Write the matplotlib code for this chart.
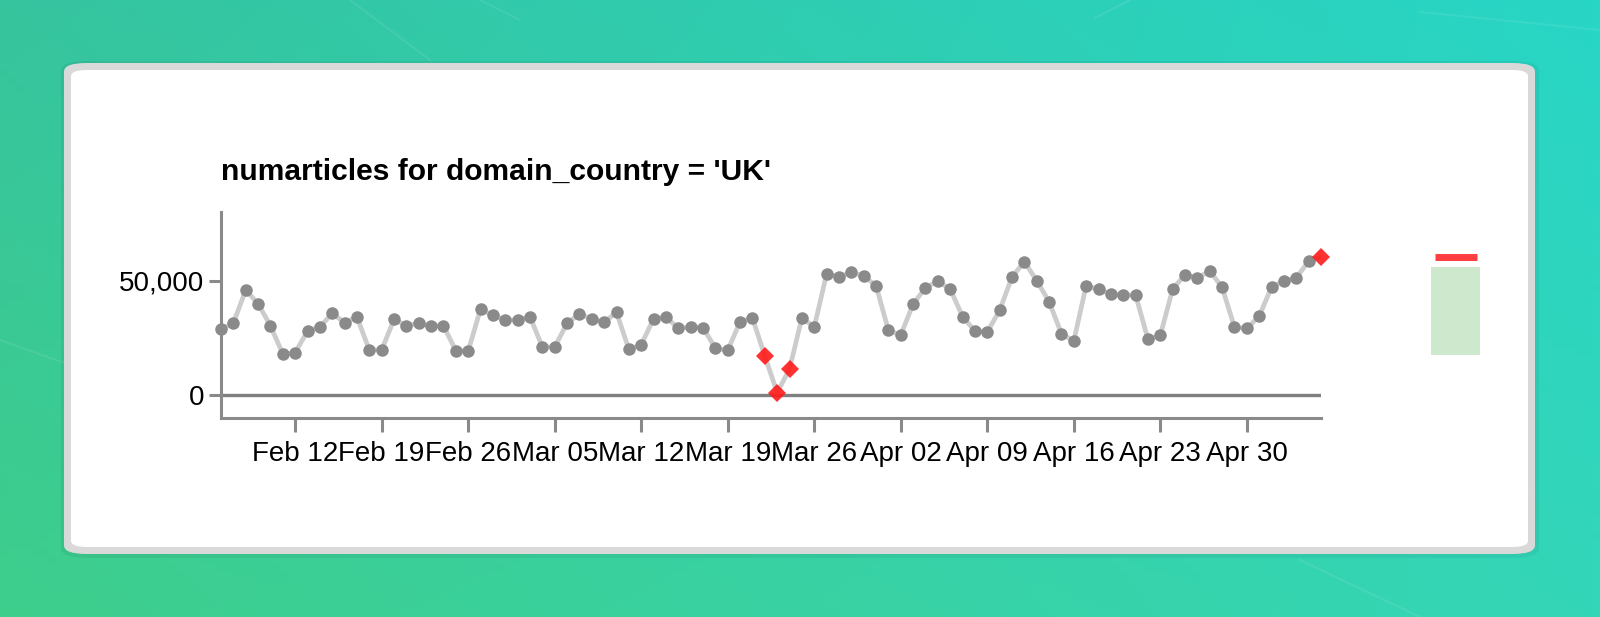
import numpy as np
import pandas as pd
import matplotlib
matplotlib.use("Agg")
import matplotlib.pyplot as plt
import matplotlib.dates as mdates
from matplotlib.patches import FancyBboxPatch
from matplotlib.ticker import FuncFormatter

plt.rcParams['font.family'] = ['Liberation Sans', 'DejaVu Sans']

# data
title = "numarticles for domain_country = 'UK'"
dates = pd.date_range('2017-02-06', periods=90, freq='D')
numarticles = [
    29040, 31530, 46070, 40090, 30480, 18120, 18690, 28170, 29910, 35900,
    31800, 34280, 19870, 19870, 33270, 30480, 31530, 30480, 30480, 19560,
    19430, 37770, 35020, 32970, 32970, 34420, 21180, 21180, 31530, 35590,
    33410, 31970, 36330, 20170, 22190, 33540, 34280, 29340, 29910, 29610,
    20610, 19740, 32230, 33840, 17250, 1220, 11570, 33980, 29910, 53060,
    51880, 53800, 52190, 47950, 28470, 26420, 39960, 47080, 49870, 46510,
    34420, 28170, 27730, 37210, 51750, 58430, 50140, 40970, 26990, 23800,
    47950, 46380, 44190, 43760, 43890, 24540, 26290, 46510, 52760, 51310,
    54370, 47250, 29780, 29350, 34590, 47380, 50000, 51440, 58600, 60610,
]
anomaly_idx = [44, 45, 46, 89]
expected_low = 17700
expected_high = 56100
latest_value = numarticles[-1]
y_ticks = [0, 50000]

W, H = 1600, 617
fig = plt.figure(figsize=(W / 100, H / 100), dpi=100)

# background gradient
bg = fig.add_axes([0, 0, 1, 1], zorder=-10)
xs = np.linspace(0, 1, 200)
ys = np.linspace(0, 1, 80)
gx, gy = np.meshgrid(xs, ys)
tl = np.array([54, 196, 158]) / 255
tr = np.array([40, 214, 198]) / 255
bl = np.array([62, 206, 140]) / 255
br = np.array([52, 214, 184]) / 255
img = ((1 - gx)[..., None] * ((1 - gy)[..., None] * tl + gy[..., None] * bl)
       + gx[..., None] * ((1 - gy)[..., None] * tr + gy[..., None] * br))
bg.imshow(img, extent=[0, W, H, 0], aspect='auto')
for seg in [((0, 340), (70, 365)), ((350, 0), (430, 60)), ((1095, 18), (1130, 0)),
            ((1420, 12), (1600, 30)), ((1300, 560), (1420, 617)), ((480, 0), (520, 20))]:
    bg.plot([seg[0][0], seg[1][0]], [seg[0][1], seg[1][1]], color='white', alpha=0.08, lw=1.5)
bg.set_xlim(0, W)
bg.set_ylim(H, 0)
bg.axis('off')

# card
shadow = FancyBboxPatch((61 / W, 1 - 558 / H), 1478 / W, 497 / H,
                        boxstyle="round,pad=0,rounding_size=0.016",
                        transform=fig.transFigure, facecolor='black', alpha=0.05,
                        edgecolor='none', zorder=-5)
fig.patches.append(shadow)
frame = FancyBboxPatch((64 / W, 1 - 554 / H), 1471 / W, 491 / H,
                       boxstyle="round,pad=0,rounding_size=0.014",
                       transform=fig.transFigure, facecolor='#d9d9d9',
                       edgecolor='none', zorder=-4)
fig.patches.append(frame)
card = FancyBboxPatch((71 / W, 1 - 547 / H), 1457 / W, 477 / H,
                      boxstyle="round,pad=0,rounding_size=0.01",
                      transform=fig.transFigure, facecolor='white',
                      edgecolor='none', zorder=-3)
fig.patches.append(card)

# main chart
left, right = 221 / W, 1321 / W
bottom, top = 1 - 418.4 / H, 1 - 212.3 / H
ax = fig.add_axes([left, bottom, right - left, top - bottom])
ax.patch.set_alpha(0)

vals = np.array(numarticles, dtype=float)
normal_idx = [i for i in range(len(vals)) if i not in anomaly_idx]

ax.axhline(0, color='#808080', lw=2.4, zorder=1)
ax.plot(dates, vals, color='#cccccc', lw=3.4, zorder=2, solid_capstyle='round')
ax.plot(dates[normal_idx], vals[normal_idx], 'o', color='#8a8a8a', ms=9,
        markeredgewidth=0, zorder=3, clip_on=False)
ax.plot(dates[anomaly_idx], vals[anomaly_idx], 'D', color='#ff1a1a', alpha=0.9,
        ms=8.8, markeredgewidth=0, zorder=4, clip_on=False)

ax.set_xlim(dates[0], dates[-1])
ax.set_ylim(-10000, 80000)
ax.set_yticks(y_ticks)
ax.yaxis.set_major_formatter(FuncFormatter(lambda v, p: f"{int(v):,}"))
ax.xaxis.set_major_locator(mdates.WeekdayLocator(byweekday=mdates.SU))
ax.xaxis.set_major_formatter(mdates.DateFormatter('%b %d'))

for s in ['top', 'right']:
    ax.spines[s].set_visible(False)
for s in ['left', 'bottom']:
    ax.spines[s].set_color('#8a8a8a')
    ax.spines[s].set_linewidth(2.2)
ax.tick_params(axis='x', length=10, width=2.2, color='#8a8a8a', pad=6,
               labelsize=20, labelcolor='black')
ax.tick_params(axis='y', length=8.6, width=2.2, color='#8a8a8a', pad=3.5,
               labelsize=20, labelcolor='black')

fig.text(221 / W, 1 - 179.5 / H, title, fontsize=21.6, fontweight='bold',
         ha='left', va='baseline')

# side panel: expected range and latest value
ax2 = fig.add_axes([1431 / W, bottom, 49 / W, top - bottom])
ax2.set_ylim(-10000, 80000)
ax2.set_xlim(-0.5, 0.5)
ax2.bar(0, expected_high - expected_low, bottom=expected_low, width=1.0,
        color='#cde8cd', edgecolor='none')
ax2.hlines(latest_value, -0.42, 0.44, color='#ff2a2a', alpha=0.9, lw=5)
ax2.axis('off')

fig.savefig('out.png', dpi=100)
